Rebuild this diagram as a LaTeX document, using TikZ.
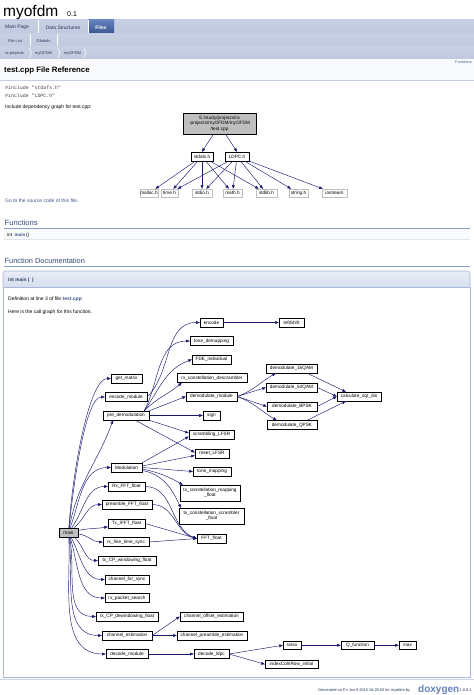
\documentclass[tikz,border=0pt]{standalone}
\usepackage{fontspec}
\setmainfont{Liberation Sans}
\setmonofont{Liberation Mono}
\usetikzlibrary{arrows.meta}
\definecolor{edgec}{HTML}{191970}
\definecolor{navA}{HTML}{C6CFE3}
\definecolor{navB}{HTML}{E4E9F3}
\definecolor{navC}{HTML}{C0C9DE}
\definecolor{selA}{HTML}{6482BE}
\definecolor{selB}{HTML}{3A5590}
\definecolor{navtxt}{HTML}{283A5D}
\definecolor{hdr}{HTML}{354C7B}
\definecolor{lnk}{HTML}{3D578C}
\definecolor{bord}{HTML}{A8B8D9}
\definecolor{lite}{HTML}{F9FAFC}
\definecolor{gry}{HTML}{BFBFBF}
\definecolor{hline}{HTML}{879ECB}
\definecolor{protoA}{HTML}{E8EDF6}
\definecolor{protoB}{HTML}{D5DDEC}
\newcommand\fsz[2]{\fontsize{#1bp}{#2bp}\selectfont}
\tikzset{
  cgn/.style={draw=black, fill=white, line width=0.4bp, inner sep=0pt, font=\fsz{4.7}{5.4}, align=center},
  dep/.style={cgn, draw=gry},
  e/.style={draw=edgec, line width=0.45bp, -{Triangle[length=3.6bp,width=2.8bp]}},
  txt/.style={anchor=base west, inner sep=0pt},
  navsep/.style={draw=white, line width=0.6bp},
}
\newcommand\bx[7][]{\node[cgn,minimum width={(#5-#3)*1bp},minimum height={(#6-#4)*1bp},#1] (#2) at ({(#3+#5)/2},{(#4+#6)/2}) {#7};}
\begin{document}
\begin{tikzpicture}[x=1bp,y=-1bp]
\useasboundingbox (0,0) rectangle (474,695);
\fill[white] (0,0) rectangle (474,695);
% ---------- title ----------
\node[txt, font=\fsz{15.5}{18}] (ttl) at (3,16.5) {myofdm};
\node[txt, font=\fsz{7}{8}] (ver) at (67,16.5) {0.1};
% ---------- nav bars ----------
\shade[top color=navA, middle color=navB, bottom color=navC] (0,20) rectangle (474,34);
\shade[top color=selA, bottom color=selB] (88,20) rectangle (114,34);
\draw[navsep] (38,20) -- (38,34);
\draw[navsep] (88,20) -- (88,34);
\node[font=\fsz{5}{6}, text=navtxt, inner sep=0pt] (t1) at (17,27.3) {Main Page};
\node[font=\fsz{5}{6}, text=navtxt, inner sep=0pt] (t2) at (63,27.3) {Data Structures};
\node[font=\bfseries\fsz{5}{6}, text=white, inner sep=0pt] (t3) at (101,27.3) {Files};
\shade[top color=navA, middle color=navB, bottom color=navC] (0,34) rectangle (474,47);
\draw[navsep] (30,34) -- (30,47);
\draw[navsep] (57,34) -- (57,47);
\node[font=\fsz{4}{5}, text=navtxt, inner sep=0pt] (t4) at (15,40.8) {File List};
\node[font=\fsz{4}{5}, text=navtxt, inner sep=0pt] (t5) at (43.5,40.8) {Globals};
\shade[top color=navA, middle color=navB, bottom color=navC] (0,47) rectangle (474,59);
\node[font=\fsz{4}{5}, text=navtxt, inner sep=0pt] (b1) at (14.5,53.3) {ra-projects};
\node[font=\fsz{4}{5}, text=navtxt, inner sep=0pt] (b2) at (43.5,53.3) {myOFDM};
\node[font=\fsz{4}{5}, text=navtxt, inner sep=0pt] (b3) at (72.5,53.3) {myOFDM};
\draw[white, line width=0.6bp] (29.5,48) -- (31.5,53) -- (29.5,58);
\draw[white, line width=0.6bp] (58,48) -- (60,53) -- (58,58);
\draw[white, line width=0.6bp] (84,48) -- (86,53) -- (84,58);
\draw[gry!70, line width=0.3bp] (30.2,48) -- (32.2,53) -- (30.2,58);
\draw[gry!70, line width=0.3bp] (58.7,48) -- (60.7,53) -- (58.7,58);
\draw[gry!70, line width=0.3bp] (84.7,48) -- (86.7,53) -- (84.7,58);
% ---------- header ----------
\fill[lite] (0,59) rectangle (474,80);
\draw[draw={rgb,255:red,196;green,207;blue,229}, line width=0.6bp] (0,80) -- (474,80);
\node[txt, font=\bfseries\fsz{7.8}{9}] (h1) at (4,73) {test.cpp File Reference};
\node[txt, font=\fsz{3.8}{4.5}, text=lnk] (h2) at (455,63.5) {Functions};
% ---------- includes ----------
\node[txt, font=\ttfamily\fsz{4.9}{6}, text=black!75] (i1) at (5,89.5) {\#include "stdafx.h"};
\node[txt, font=\ttfamily\fsz{4.9}{6}, text=black!75] (i2) at (5,97.5) {\#include "LDPC.h"};
\node[txt, font=\fsz{5}{6}] (i3) at (5,109) {Include dependency graph for test.cpp:};
% ---------- dependency graph ----------
\bx[fill=gry]{dtop}{183}{113}{256}{134}{E:/study/projects/ra\\-projects/myOFDM/myOFDM\\/test.cpp}
\bx{dstd}{191}{152}{213}{161}{stdafx.h}
\bx{dldpc}{225}{152}{249}{161}{LDPC.h}
\bx[dep]{dmal}{140}{189}{158}{197.5}{malloc.h}
\bx[dep]{dtime}{161}{189}{178}{197.5}{time.h}
\bx[dep]{dstdio}{192}{189}{212}{197.5}{stdio.h}
\bx[dep]{dmath}{223}{189}{242}{197.5}{math.h}
\bx[dep]{dstdlib}{256}{189}{277}{197.5}{stdlib.h}
\bx[dep]{dstring}{289}{189}{308}{197.5}{string.h}
\bx[dep]{dios}{322}{189}{347}{197.5}{iostream}
\draw[e] ([xshift=-6bp]dtop.south) -- (dstd.north);
\draw[e] ([xshift=6bp]dtop.south) -- (dldpc.north);
\draw[e] (dstd) -- (dmal);
\draw[e] (dstd) -- (dtime);
\draw[e] (dstd) -- (dstdio);
\draw[e] (dstd) -- (dmath);
\draw[e] (dstd) -- (dstdlib);
\draw[e] (dldpc) -- (dtime);
\draw[e] (dldpc) -- (dstdio);
\draw[e] (dldpc) -- (dmath);
\draw[e] (dldpc) -- (dstdlib);
\draw[e] (dldpc) -- (dstring);
\draw[e] (dldpc) -- (dios);
% ---------- source link, functions ----------
\node[txt, font=\fsz{5}{6}, text=lnk] (src) at (5,202) {Go to the source code of this file.};
\node[txt, font=\fsz{7.6}{9}, text=hdr] (fh) at (4.5,225) {Functions};
\draw[hline, line width=0.5bp] (4,228) -- (470,228);
\fill[lite] (4,229) rectangle (470,239.5);
\draw[draw={rgb,255:red,222;green,228;blue,240}, line width=0.5bp] (4,239.5) -- (470,239.5);
\node[txt, font=\fsz{4.6}{5.5}] (fr) at (7,236) {int\ \ \textcolor{lnk}{\bfseries main}\,()};
\node[txt, font=\fsz{7.4}{9}, text=hdr] (fdh) at (4.5,263) {Function Documentation};
\draw[hline, line width=0.5bp] (4,266) -- (470,266);
% ---------- member box ----------
\draw[bord, line width=0.6bp, fill=white] (3,287) rectangle (470,677);
\shade[top color=protoA, bottom color=protoB, rounded corners=2.5bp] (3,271) rectangle (470,287.5);
\draw[bord, line width=0.6bp, rounded corners=2.5bp] (3,287) -- (3,271) -- (470,271) -- (470,287);
\draw[bord, line width=0.6bp] (3,287) -- (470,287);
\node[txt, font=\bfseries\fsz{4.8}{6}, text=navtxt] (mp) at (8,281) {int main (\ \ )};
\node[txt, font=\fsz{5}{6}] (def) at (8,300) {Definition at line 3 of file \textcolor{lnk}{\bfseries test.cpp}};
\node[txt, font=\fsz{5}{6}] (hc) at (8,313.5) {Here is the call graph for this function.};
% ---------- call graph nodes ----------
\bx{enc}{200}{318}{223}{327}{encode}
\bx{lsh}{279}{318}{304}{327}{leftShift}
\bx{tdm}{190}{336.5}{233}{345.5}{tone\_demapping}
\bx{fde}{192}{355}{231}{364}{FDE\_individual}
\bx{rxcd}{177}{373.5}{247}{382.5}{rx\_constellation\_descrambler}
\bx{dmm}{186}{392}{237}{401}{demodulate\_module}
\bx{sgn}{203}{411}{220}{420}{sign}
\bx{slfsr}{189}{430}{234}{439}{scrambling\_LFSR}
\bx{rlfsr}{195}{449}{229}{458}{reset\_LFSR}
\bx{dqa}{266}{364}{317}{373}{demodulate\_16QAM}
\bx{dqb}{266}{383}{317}{392}{demodulate\_64QAM}
\bx{dbp}{267}{402}{317}{411}{demodulate\_BPSK}
\bx{dqp}{267}{420.5}{317}{429.5}{demodulate\_QPSK}
\bx{csd}{337}{392}{381}{401}{calculate\_sqr\_dis}
\bx{gm}{111}{374}{142}{383}{get\_matrix}
\bx{emod}{105}{392.5}{147}{401.5}{encode\_module}
\bx{pdem}{103}{411}{149}{420}{pre\_demodulation}
\bx{modu}{111}{463}{142}{472}{Modulation}
\bx{tmap}{193}{467}{231}{476}{tone\_mapping}
\bx{txcm}{180}{485}{240}{501}{tx\_constellation\_mapping\\\_float}
\bx{txcs}{179}{508}{244}{524}{tx\_constellation\_scrambler\\\_float}
\bx{rxfft}{108}{482}{145}{491}{Rx\_FFT\_float}
\bx{pfft}{102}{500}{152}{509}{preamble\_FFT\_float}
\bx{txifft}{108}{519}{145}{528}{Tx\_IFFT\_float}
\bx{fft}{197}{534}{226}{543}{FFT\_float}
\bx[fill=gry]{main}{59}{528}{78}{537}{main}
\bx{rfts}{103}{537.5}{149}{546.5}{rx\_fine\_time\_sync}
\bx{txcp}{98}{556}{156}{565}{tx\_CP\_windowing\_float}
\bx{cfs}{105}{575}{149}{584}{channel\_for\_sync}
\bx{rps}{105}{593.5}{149}{602.5}{rx\_packet\_search}
\bx{rxcp}{96}{612}{158}{621}{rx\_CP\_dewindowing\_float}
\bx{cest}{102}{631}{152}{640}{channel\_estimation}
\bx{dmod}{106}{649.5}{148}{658.5}{decode\_module}
\bx{coe}{180}{612}{243}{621}{channel\_offset\_estimation}
\bx{cpe}{177}{631}{247}{640}{channel\_preamble\_estimation}
\bx{dldp}{194}{649.5}{229}{658.5}{decode\_ldpc}
\bx{sisso}{283}{641}{301}{649.5}{sisso}
\bx{qf}{341}{641}{374}{649.5}{Q\_function}
\bx{mx}{399}{641}{416}{649.5}{max}
\bx{icr}{265}{660}{318}{668.5}{indexColnRow\_initial}
% ---------- call graph edges ----------
\draw[e] (main) to[out=86,in=180,in looseness=.35] (gm);
\draw[e] (main) to[out=84,in=180,in looseness=.35] (emod);
\draw[e] (main) to[out=80,in=-110] ([xshift=-13bp]pdem.south);
\draw[e] (main) to[out=70,in=180] (modu);
\draw[e] (main) to[out=55,in=180] (rxfft);
\draw[e] (main) to[out=40,in=180] (pfft);
\draw[e] (main) to[out=12,in=190] (txifft);
\draw[e] (main) to[out=-8,in=180] (rfts);
\draw[e] (main) to[out=-40,in=180] (txcp);
\draw[e] (main) to[out=-62,in=180] (cfs);
\draw[e] (main) to[out=-72,in=180] (rps);
\draw[e] (main) to[out=-78,in=180] (rxcp);
\draw[e] (main) to[out=-83,in=180] (cest);
\draw[e] (main) to[out=-87,in=180] (dmod);
\draw[e] (emod.east) to[out=45,in=180] (enc.west);
\draw[e] (enc) -- (lsh);
\coordinate (pdo) at ([xshift=-5bp]pdem.north east);
\draw[e] (pdo) to[out=62,in=180] (tdm.west);
\draw[e] (pdo) to[out=55,in=200] (fde.west);
\draw[e] (pdo) to[out=45,in=220] ([xshift=5bp]rxcd.south west);
\draw[e] (pdem.north east) -- (dmm.west);
\draw[e] (pdem.east) -- (sgn.west);
\draw[e] (pdem.south east) -- ([yshift=1.5bp]slfsr.west);
\draw[e] ([xshift=-14bp]pdem.south east) -- ([yshift=1bp]rlfsr.west);
\draw[e] (modu.north east) -- ([yshift=-2bp]slfsr.west);
\draw[e] ([yshift=1.5bp]modu.east) -- ([yshift=-2bp]rlfsr.west);
\draw[e] (modu.east) -- (tmap.west);
\draw[e] ([yshift=-1.5bp]modu.east) to[out=-12,in=150] ([xshift=3bp]txcm.north west);
\draw[e] ([yshift=-3bp]modu.east) to[out=-10,in=115] ([xshift=2bp]txcs.north west);
\draw[e] (rxfft.east) to[out=0,in=160] (fft.west);
\draw[e] (pfft.east) to[out=0,in=165] (fft.west);
\draw[e] (txifft.east) -- (fft.west);
\draw[e] (rfts.east) -- (fft.west);
\draw[e] (dmm.east) to[out=20,in=-150] ([xshift=10bp]dqa.south west);
\draw[e] (dmm.east) -- (dqb.west);
\draw[e] (dmm.east) -- (dbp.west);
\draw[e] (dmm.east) to[out=-20,in=150] ([xshift=10bp]dqp.north west);
\draw[e] ([xshift=-10bp]dqa.south east) -- ([xshift=9bp]csd.north west);
\draw[e] (dqb.east) -- (csd.west);
\draw[e] (dbp.east) -- (csd.west);
\draw[e] ([xshift=-10bp]dqp.north east) -- ([xshift=9bp]csd.south west);
\draw[e] (cest.east) -- (coe.west);
\draw[e] (cest) -- (cpe);
\draw[e] (dmod) -- (dldp);
\draw[e] (dldp.east) -- (sisso.west);
\draw[e] (dldp.east) -- (icr.west);
\draw[e] (sisso) -- (qf);
\draw[e] (qf) -- (mx);
% ---------- footer ----------
\draw[bord!60, line width=0.5bp] (0,679.5) -- (474,679.5);
\node[txt, font=\fsz{3.9}{4.5}, text=navtxt] (gen) at (318,691) {Generated on Fri Jan 9 2015 16:29:50 for myofdm by};
\node[txt, font=\bfseries\fsz{10}{11}, text=selA] (dox) at (418,692) {doxygen};
\node[txt, font=\fsz{3.9}{4.5}, text=navtxt] (dv) at (459.5,691) {1.8.9.1};
\end{tikzpicture}
\end{document}
